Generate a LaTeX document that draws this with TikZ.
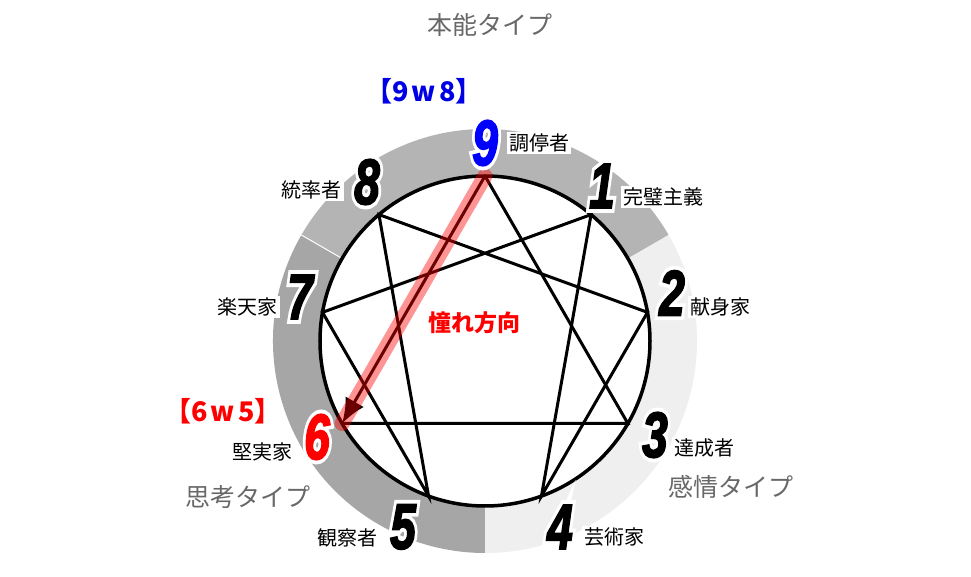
\documentclass[tikz,border=0pt]{standalone}
\usepackage{fontspec}
\newfontfamily\jp{Noto Sans CJK JP}
\newfontfamily\numf{Liberation Sans}[BoldItalicFeatures={FakeBold=3}]
\newfontfamily\numo{Liberation Sans}[BoldItalicFeatures={FakeBold=15}]
\usetikzlibrary{arrows.meta,calc}
\definecolor{gutc}{HTML}{B4B4B4}
\definecolor{headc}{HTML}{A6A6A6}
\definecolor{heartc}{HTML}{EFEFEF}
\definecolor{typec}{HTML}{686868}
\definecolor{myblue}{HTML}{0000FF}
\definecolor{wblue}{HTML}{0000E6}
\definecolor{myred}{HTML}{FF0000}
\tikzset{
  eline/.style={line width=3pt, black},
  numtxt/.style={font=\bfseries\itshape\fontsize{64}{64}\selectfont, inner sep=0pt},
  lab/.style={font=\jp\fontsize{20}{20}\selectfont, fill=white, inner sep=2pt},
  typ/.style={font=\jp\fontsize{25}{25}\selectfont, text=typec, inner sep=0pt},
  wing/.style={font=\jp\bfseries\fontsize{27}{27}\selectfont, inner sep=0pt},
}
\newcommand\numglyph[2]{\scalebox{0.72}[1]{\rlap{\color{white}\numo #2}{\color{#1}\numf #2}}}
\newcommand\ennum[4]{\node[numtxt] (#1) at (#2) {\numglyph{#3}{#4}};}
\begin{document}
\begin{tikzpicture}[x=1pt,y=1pt]
\useasboundingbox[fill=white] (-485,-236) rectangle (486,341);
\coordinate (O) at (0,0);
% sectors
\fill[gutc] (30:212) arc[start angle=30,end angle=150,radius=212] -- (150:165) arc[start angle=150,end angle=30,radius=165] -- cycle;
\fill[headc] (150:212) arc[start angle=150,end angle=270,radius=212] -- (270:165) arc[start angle=270,end angle=150,radius=165] -- cycle;
\fill[heartc] (270:212) arc[start angle=270,end angle=390,radius=212] -- (390:165) arc[start angle=390,end angle=270,radius=165] -- cycle;
\draw[white, line width=1pt] (150:165) -- (150:212);
% circle
\filldraw[fill=white, draw=black, line width=3.5pt] (O) circle[radius=165];
\foreach \k in {1,...,9} \coordinate (p\k) at ({90-40*\k}:165);
\draw[eline, line join=miter] (p1) -- (p4) -- (p2) -- (p8) -- (p5) -- (p7) -- cycle;
\draw[eline] (p9) -- (p3) -- (p6);
\draw[eline, -{Latex[length=25pt,width=21pt]}] (p9) -- (p6);
\draw[line width=15pt, myred, opacity=0.42, line cap=round] (p9) -- (p6);
% numbers
\ennum{n9}{0,198}{myblue}{9}
\ennum{n1}{117,155}{black}{1}
\ennum{n2}{187,48}{black}{2}
\ennum{n3}{170,-94}{black}{3}
\ennum{n4}{75,-186}{black}{4}
\ennum{n5}{-82,-186}{black}{5}
\ennum{n6}{-168,-96}{myred}{6}
\ennum{n7}{-185,44}{black}{7}
\ennum{n8}{-118,159}{black}{8}
% labels
\node[lab] (l9) at (54,198) {調停者};
\node[lab] (l1) at (178,144) {完璧主義};
\node[lab] (l2) at (235,34) {献身家};
\node[lab] (l3) at (219,-107) {達成者};
\node[lab] (l4) at (129,-196) {芸術家};
\node[lab] (l5) at (-137,-197) {観察者};
\node[lab] (l6) at (-222,-111) {堅実家};
\node[lab] (l7) at (-237,34) {楽天家};
\node[lab] (l8) at (-173,151) {統率者};
% type labels
\node[typ] (tgut) at (5,316) {本能タイプ};
\node[typ] (thead) at (-237,-156) {思考タイプ};
\node[typ] (theart) at (246,-146) {感情タイプ};
% wings
\node[wing, text=wblue] (w9) at (-61,250) {【9\kern3pt w\kern3pt 8】};
\node[wing, text=myred] (w6) at (-262,-70) {【6\kern3pt w\kern3pt 5】};
\node[font=\jp\bfseries\fontsize{23}{23}\selectfont, text=myred, inner sep=0pt] (adir) at (-11,18) {憧れ方向};
\end{tikzpicture}
\end{document}
